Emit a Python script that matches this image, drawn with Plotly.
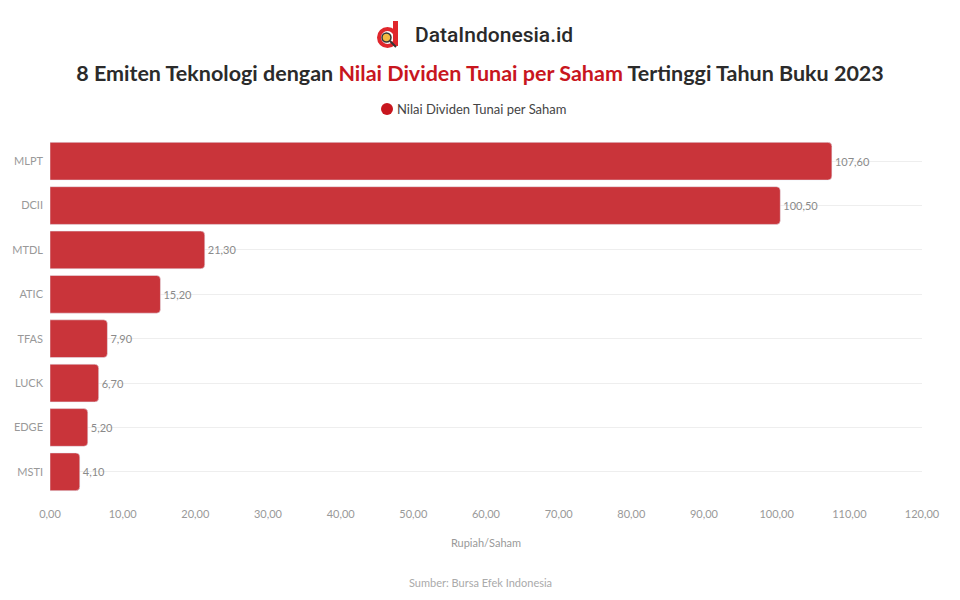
import plotly.graph_objects as go

# ---- data ----
emiten = ["MLPT", "DCII", "MTDL", "ATIC", "TFAS", "LUCK", "EDGE", "MSTI"]
dividen = [107.6, 100.5, 21.3, 15.2, 7.9, 6.7, 5.2, 4.1]
dividen_labels = ["107,60", "100,50", "21,30", "15,20", "7,90", "6,70", "5,20", "4,10"]
x_ticks = [0, 10, 20, 30, 40, 50, 60, 70, 80, 90, 100, 110, 120]
x_tick_labels = ["0,00", "10,00", "20,00", "30,00", "40,00", "50,00", "60,00",
                 "70,00", "80,00", "90,00", "100,00", "110,00", "120,00"]
legend_label = "Nilai Dividen Tunai per Saham"

BAR = "#C9343A"
RED = "#C8161E"
FONT = "Lato"

L, R, T, B = 50, 38, 139, 106
PW, PH = 960 - L - R, 600 - T - B


def px(x):
    return (x - L) / PW


def py(y):
    return 1 + (T - y) / PH


fig = go.Figure()
fig.add_trace(go.Bar(
    y=emiten, x=dividen, orientation="h",
    name=legend_label,
    marker=dict(color=BAR, cornerradius=4),
    text=dividen_labels, textposition="outside",
    textfont=dict(size=11, color="#8a8a8a", family=FONT),
    cliponaxis=False,
    showlegend=False,
))

fig.update_layout(
    width=960, height=600,
    paper_bgcolor="white", plot_bgcolor="white",
    margin=dict(l=L, r=R, t=T, b=B, autoexpand=False),
    font=dict(family=FONT, color="#333"),
    bargap=0.15,
    showlegend=False,
    title=dict(
        text='8 Emiten Teknologi dengan <span style="color:#C8161E">Nilai Dividen Tunai per Saham</span> Tertinggi Tahun Buku 2023',
        x=0.5, xanchor="center", y=1 - 73 / 600, yanchor="middle",
        font=dict(size=21.5, family=FONT, color="#2b2b2b", weight="bold"),
    ),
    xaxis=dict(
        range=[0, 120], tickvals=x_ticks, ticktext=x_tick_labels,
        showgrid=False, zeroline=False, showline=False,
        tickfont=dict(size=11, color="#999", family=FONT),
        ticklabelstandoff=12,
        title=dict(text="Rupiah/Saham", font=dict(size=11, color="#999", family=FONT), standoff=20),
        fixedrange=True, automargin=False,
    ),
    yaxis=dict(
        autorange="reversed", showgrid=True, gridcolor="#eeeeee", gridwidth=1,
        tickfont=dict(size=11, color="#999", family=FONT),
        ticks="", ticklabelstandoff=6, fixedrange=True, automargin=False,
    ),
)

# legend (dot + text)
fig.add_shape(type="circle", xref="paper", yref="paper",
              x0=px(381), x1=px(393), y0=py(115), y1=py(103),
              line=dict(width=0), fillcolor=RED)
fig.add_annotation(
    text=legend_label, xref="paper", yref="paper",
    x=px(395), y=py(109), xanchor="left", yanchor="middle",
    showarrow=False, font=dict(size=13, color="#444", family=FONT),
)

fig.add_annotation(
    text="Sumber: Bursa Efek Indonesia", xref="paper", yref="paper",
    x=px(480), y=py(582), xanchor="center", yanchor="middle",
    showarrow=False, font=dict(size=11, color="#aaa", family=FONT),
)

# logo: "DataIndonesia.id"
fig.add_annotation(
    text="DataIndonesia.id", xref="paper", yref="paper",
    x=px(413), y=py(35), xanchor="left", yanchor="middle",
    showarrow=False, font=dict(size=21, color="#2a2a2a", family="Roboto", weight=500),
)
# logo icon: red "d" with magnifier
fig.add_shape(type="circle", xref="paper", yref="paper",
              x0=px(379), x1=px(396), y0=py(46), y1=py(29),
              line=dict(color="#E0262C", width=4), fillcolor="white")
fig.add_shape(type="rect", xref="paper", yref="paper",
              x0=px(393), x1=px(398), y0=py(46), y1=py(21),
              line=dict(width=0), fillcolor="#E0262C")
fig.add_shape(type="circle", xref="paper", yref="paper",
              x0=px(382), x1=px(391), y0=py(42), y1=py(33),
              line=dict(color="#333", width=1.5), fillcolor="#f4b942")
fig.add_shape(type="line", xref="paper", yref="paper",
              x0=px(390), x1=px(396), y0=py(41), y1=py(47),
              line=dict(color="#333", width=2))

fig.write_html("out.html", config={"displayModeBar": False},
               post_script="document.body.style.margin='0';")
